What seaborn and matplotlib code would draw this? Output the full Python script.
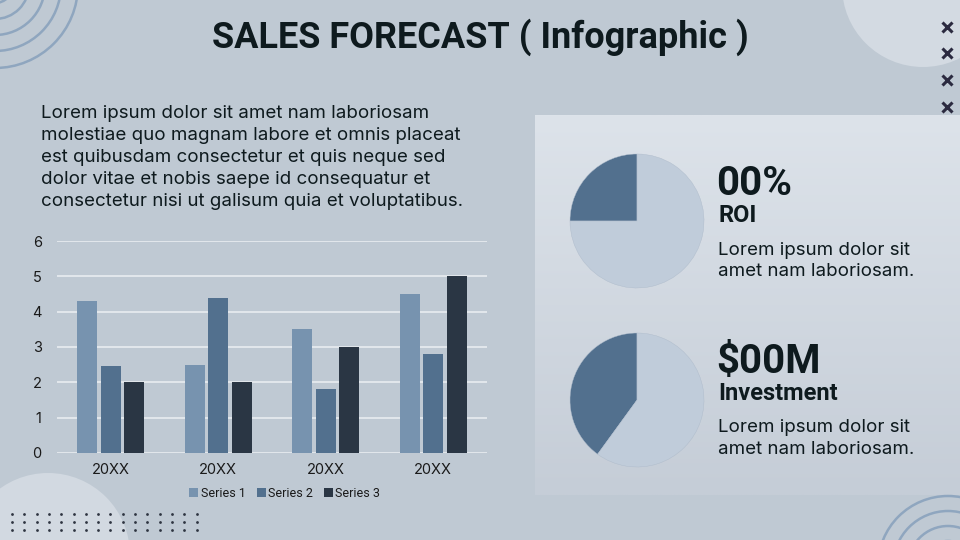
import numpy as np
import pandas as pd
import matplotlib
matplotlib.use("Agg")
import matplotlib.pyplot as plt
import seaborn as sns
from matplotlib.patches import Circle

# data
years = ["20XX", "20XX ", "20XX  ", "20XX   "]
year_labels = ["20XX", "20XX", "20XX", "20XX"]
series_names = ["Series 1", "Series 2", "Series 3"]
series1 = [4.3, 2.5, 3.5, 4.5]
series2 = [2.45, 4.4, 1.8, 2.8]
series3 = [2.0, 2.0, 3.0, 5.0]
roi_share = [25, 75]
invest_share = [40, 60]

bar_colors = ["#7793AF", "#52708E", "#2A3644"]
pie_dark = "#52708E"
pie_light = "#C0CCDA"
bg = "#BFC9D3"
txt = "#0E1A1E"
body_font = ["Inter", "DejaVu Sans"]

sns.set_theme(style="white")
plt.rcParams["font.family"] = ["Roboto", "DejaVu Sans"]

rows = []
for i, y in enumerate(years):
    for name, vals in zip(series_names, [series1, series2, series3]):
        rows.append({"year": y, "series": name, "value": vals[i]})
df = pd.DataFrame(rows)

fig = plt.figure(figsize=(9.6, 5.4), dpi=100)
fig.patch.set_facecolor(bg)

# background decoration layer (pixel coords)
bgax = fig.add_axes([0, 0, 1, 1])
bgax.set_xlim(0, 960)
bgax.set_ylim(540, 0)
bgax.axis("off")
bgax.set_zorder(-1)

# right panel gradient
grad = np.linspace(0, 1, 200).reshape(-1, 1)
top_c = np.array([0xDD, 0xE3, 0xEA]) / 255
bot_c = np.array([0xC5, 0xCD, 0xD7]) / 255
img = top_c + (bot_c - top_c) * grad[..., None]
img = np.repeat(img, 2, axis=1)
bgax.imshow(img, extent=[535, 960, 495, 115], aspect="auto", zorder=1)

# top-left arcs
for r in [83, 66, 50, 34, 18]:
    bgax.add_patch(Circle((-5, -15), r, fill=False, ec="#8FA6BF", lw=1.8, zorder=2))
# top-right soft circle
bgax.add_patch(Circle((923, -14), 81, fc="#D3DAE2", ec="none", zorder=0.5))
# bottom-left soft circle
bgax.add_patch(Circle((48, 555), 82, fc="#D2D9E1", ec="none", zorder=0.5))
# dot grid
for yy in [513.5, 521.8, 530]:
    for k in range(16):
        bgax.plot(12 + k * 12.3, yy, marker="o", ms=2.0, mew=0, color="#2E3440", zorder=3)
# bottom-right arcs
for r in [70, 55, 40, 25]:
    bgax.add_patch(Circle((948, 566), r, fill=False, ec="#8FA6BF", lw=1.8, zorder=2))
# x marks
for yy in [27, 53, 80, 107]:
    bgax.plot(947, yy, marker="x", ms=7, mew=2.2, color="#2B2A40", zorder=3)

# title
fig.text(480 / 960, 1 - 37 / 540, "SALES FORECAST ( Infographic )", ha="center",
         va="center", fontsize=26, fontweight="bold", color=txt)

para = ["Lorem ipsum dolor sit amet nam laboriosam",
        "molestiae quo magnam labore et omnis placeat",
        "est quibusdam consectetur et quis neque sed",
        "dolor vitae et nobis saepe id consequatur et",
        "consectetur nisi ut galisum quia et voluptatibus."]
for i, line in enumerate(para):
    fig.text(41 / 960, 1 - (113 + i * 22) / 540, line, ha="left", va="center",
             fontsize=13.5, color=txt, family=body_font)

# bar chart
ax = fig.add_axes([57 / 960, 1 - 453 / 540, 430 / 960, 212 / 540])
sns.barplot(data=df, x="year", y="value", hue="series", palette=bar_colors,
            width=0.66, gap=0.15, ax=ax, saturation=1, legend=True, linewidth=0)
ax.set_facecolor("none")
ax.set_ylim(0, 6)
ax.set_yticks(range(7))
ax.set_xticks(range(4))
ax.set_xticklabels(year_labels)
ax.grid(axis="y", color="#E8ECF0", lw=1.2)
ax.set_axisbelow(True)
for s in ax.spines.values():
    s.set_visible(False)
ax.tick_params(axis="both", length=0, labelsize=10.5, colors="#1A1A1A")
for lab in ax.get_xticklabels() + ax.get_yticklabels():
    lab.set_family(body_font)
ax.tick_params(axis="y", pad=11)
ax.tick_params(axis="x", pad=7)
ax.set_xlabel("")
ax.set_ylabel("")
leg = ax.legend(loc="upper center", bbox_to_anchor=(0.53, -0.105), ncol=3, frameon=False,
                fontsize=9, handlelength=0.7, handleheight=0.7, handletextpad=0.2,
                columnspacing=0.9)
for t in leg.get_texts():
    t.set_color("#1A1A1A")

# pies
def pie_at(cx, cy, share):
    r = 67
    pax = fig.add_axes([(cx - r) / 960, 1 - (cy + r) / 540, 2 * r / 960, 2 * r / 540])
    pax.pie(share, colors=[pie_dark, pie_light], startangle=90, counterclock=True,
            radius=1, wedgeprops={"edgecolor": "#AEBBCB", "linewidth": 0.3})
    pax.set_xlim(-1, 1)
    pax.set_ylim(-1, 1)
    pax.set_aspect("equal")
    pax.axis("off")

pie_at(637, 221, roi_share)
pie_at(637, 400, invest_share)

# right texts
def block(y0, big, label):
    fig.text(716 / 960, 1 - y0 / 540, big, ha="left", va="center", fontsize=29,
             fontweight="bold", color=txt)
    fig.text(718 / 960, 1 - (y0 + 32) / 540, label, ha="left", va="center",
             fontsize=17, fontweight="bold", color=txt)
    fig.text(718 / 960, 1 - (y0 + 66) / 540, "Lorem ipsum dolor sit", ha="left",
             va="center", fontsize=13.5, color=txt, family=body_font)
    fig.text(718 / 960, 1 - (y0 + 88) / 540, "amet nam laboriosam.", ha="left",
             va="center", fontsize=13.5, color=txt, family=body_font)

block(184, "00%", "ROI")
block(362, "$00M", "Investment")

fig.savefig("out.png", dpi=100, facecolor=bg)
